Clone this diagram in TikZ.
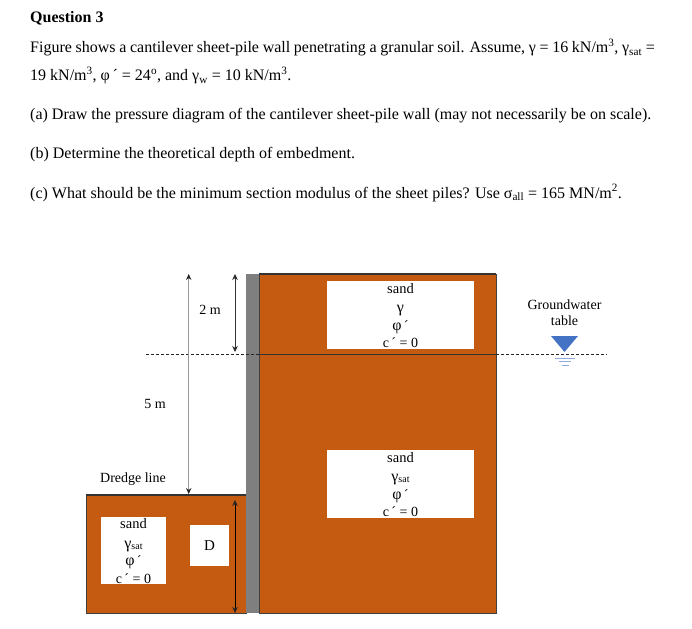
\documentclass[tikz,border=0pt]{standalone}
\usepackage{fontspec}
\setmainfont{Liberation Serif}
\usepackage{xcolor}
\usepackage{tikz}
\usetikzlibrary{arrows.meta,positioning}
\definecolor{soilorange}{RGB}{197,90,17}
\definecolor{wallgray}{RGB}{127,127,127}
\definecolor{waterblue}{RGB}{68,114,196}
\definecolor{waterlight}{RGB}{143,170,220}
\newcommand{\gsat}{γ\textsubscript{sat}}
\newcommand{\gsatbig}{{\fontsize{16}{16}\selectfont γ}{\fontsize{10}{10}\selectfont\raisebox{-1pt}{sat}}}
\newcommand{\soillabel}[1]{\rule{0pt}{11.5pt}{\fontsize{14.5}{15.5}\selectfont sand}\\[4pt]#1\\[2pt]{\fontsize{16}{16}\selectfont φ}\,´\\[2pt]c\,´ = 0}
\begin{document}
\begin{tikzpicture}[
    x=1pt, y=-1pt,
    para/.style={inner sep=0pt, anchor=base west, font=\fontsize{16}{18}\selectfont},
    soil/.style={rectangle, draw=black!75, fill=soilorange, inner sep=0pt, outer sep=0pt},
    whitebox/.style={rectangle, fill=white, inner sep=0pt, align=center, font=\fontsize{14}{15.5}\selectfont},
    lbl/.style={inner sep=0pt, align=center, font=\fontsize{14}{16}\selectfont},
    dim/.style={{Stealth[length=6pt,width=5.5pt,black!85]}-{Stealth[length=6pt,width=5.5pt,black!85]}, line width=0.6pt, black!80},
    waterline/.style={densely dashed, line width=0.7pt, black!85},
    edge/.style={line width=1.2pt, black!80},
    ripple/.style={waterlight, line width=0.7pt}
]
    \useasboundingbox (0,0) rectangle (692,628);

    % question text
    \node[para, font=\fontsize{16}{18}\selectfont\bfseries] (title) at (30,23) {Question 3};
    \node[para] (line1) at (30,53) {\spaceskip=0.23em Figure shows a cantilever sheet-pile wall penetrating a granular soil. Assume, γ = 16 kN/m\textsuperscript{3}, \gsat{} =};
    \node[para, below=28pt of line1.base west, anchor=base west] (line2) {19 kN/m\textsuperscript{3}, φ\,´ = 24\textsuperscript{o}, and γ\textsubscript{w} = 10 kN/m\textsuperscript{3}.};
    \node[para, below=39pt of line2.base west, anchor=base west] (parta) {(a) Draw the pressure diagram of the cantilever sheet-pile wall (may not necessarily be on scale).};
    \node[para, below=39pt of parta.base west, anchor=base west] (partb) {(b) Determine the theoretical depth of embedment.};
    \node[para, below=39pt of partb.base west, anchor=base west] (partc) {(c) What should be the minimum section modulus of the sheet piles? Use σ\textsubscript{all} = 165 MN/m\textsuperscript{2}.};

    % soil and wall
    \node[soil, minimum width=237pt, minimum height=339pt] (soilright) at (377.5,443.5) {};
    \node[soil, minimum width=160pt, minimum height=118pt] (soilleft) at (166,554) {};
    \node[rectangle, fill=wallgray, inner sep=0pt, minimum width=13pt, minimum height=339pt,
        left=0pt of soilright.north west, anchor=north east] (wall) {};
    \draw[edge] (soilright.north west) -- (soilright.north east);
    \draw[edge] (soilleft.north west) -- (soilleft.north east);

    % water table
    \coordinate (waterL) at (146,354);
    \coordinate (waterA) at (259,354);
    \coordinate (waterB) at (496,354);
    \coordinate (waterR) at (607,354);
    \draw[waterline] (waterL) -- (waterA);
    \draw[black!80, line width=0.7pt] (waterA) -- (waterB);
    \draw[waterline] (waterB) -- (waterR);

    % white label boxes
    \node[whitebox, minimum width=147pt, minimum height=68pt] (boxdry) at (400.5,315) {\soillabel{{\fontsize{16}{16}\selectfont γ}}};
    \node[whitebox, minimum width=147pt, minimum height=68pt] (boxsat) at (400.5,484) {\soillabel{\gsatbig}};
    \node[whitebox, minimum width=65pt, minimum height=67pt] (boxleft) at (133.5,550.5) {\soillabel{\gsatbig}};
    \node[whitebox, minimum width=39pt, minimum height=41pt, font=\fontsize{15}{16}\selectfont] (boxD) at (209.5,545.5) {D};

    % dimensions
    \coordinate (fivetop) at (188.7,274);
    \coordinate (fivebot) at (188.7,494);
    \coordinate (twotop) at (235,274);
    \coordinate (twobot) at (235,352);
    \coordinate (Dtop) at (235,500);
    \coordinate (Dbot) at (235,613);
    \draw[dim, black!40, line width=1pt] (fivetop) -- (fivebot);
    \draw[dim] (twotop) -- (twobot);
    \draw[dim, black] (Dtop) -- (Dbot);

    \node[lbl] (lblfive) at (155,404) {5 m};
    \node[lbl] (lbltwo) at (210,310) {2 m};
    \node[lbl] (lbldredge) at (133,479) {Dredge line};
    \node[lbl] (lblgw) at (564.5,313) {Groundwater\\table};

    % water symbol
    \fill[waterblue] (551,336) -- (578,336) -- (564.5,352) -- cycle;
    \draw[ripple] (555,358) -- (575,358);
    \draw[ripple] (559,361.5) -- (571,361.5);
    \draw[ripple] (562,365) -- (569,365);
\end{tikzpicture}
\end{document}
